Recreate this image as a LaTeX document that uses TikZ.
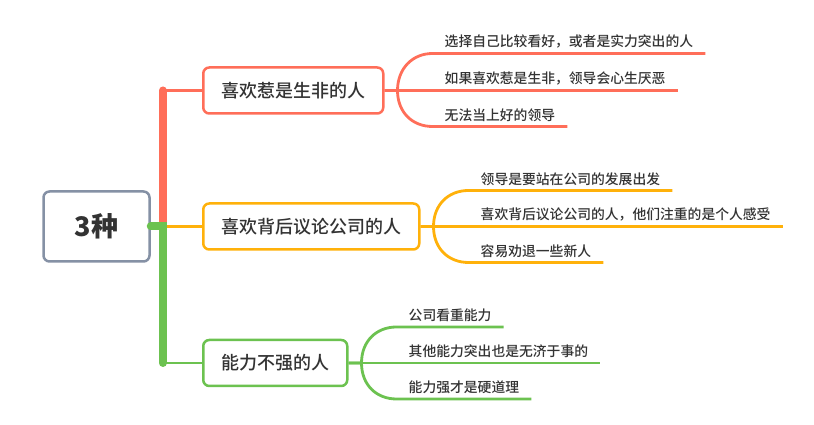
\documentclass[tikz,border=0pt]{standalone}
\usepackage{fontspec}
\setmainfont{Noto Sans CJK SC}
\newfontfamily\mediumfont{Noto Sans CJK SC Medium}
\usepackage{tikz}
\usetikzlibrary{calc}
\usetikzlibrary{positioning}
\definecolor{rootGray}{HTML}{8591A5}
\definecolor{topicRed}{HTML}{FF6E59}
\definecolor{topicOrange}{HTML}{FFB10A}
\definecolor{topicGreen}{HTML}{6CC250}
\definecolor{textGray}{HTML}{333333}
\tikzstyle{rootnode} = [draw=rootGray,line width=2.5pt,rounded corners=6pt,fill=white,minimum width=106pt,minimum height=70pt,text=textGray,font=\fontsize{27}{27}\selectfont\bfseries]
\tikzstyle{topicnode} = [line width=2.5pt,rounded corners=6pt,fill=white,minimum height=46pt,inner xsep=18pt,anchor=west,text=textGray,font=\mediumfont\fontsize{18}{18}\selectfont]
\tikzstyle{leafnode} = [anchor=south west,inner xsep=12pt,inner ysep=5pt,text=textGray,font=\mediumfont\fontsize{13.8}{13.8}\selectfont]
\tikzstyle{trunkline} = [line width=8pt]
\tikzstyle{branchline} = [line width=2.8pt]

\begin{document}
\begin{tikzpicture}[x=1pt,y=1pt]
%
\useasboundingbox (0,0) rectangle (814,425);

\node (root) [rootnode] at (96.5,198.5) {3种};
\node (t1) [topicnode,draw=topicRed] at (202,334.5) {喜欢惹是生非的人};
\node (t2) [topicnode,draw=topicOrange] at (202,198.5) {喜欢背后议论公司的人};
\node (t3) [topicnode,draw=topicGreen] at (202,62) {能力不强的人};
\coordinate (fork) at ($ (root.east)+(12,0) $);

% leaves
\node (t1a) [leafnode] at ($ (t1.east)+(48,37) $) {选择自己比较看好，或者是实力突出的人};
\node (t1b) [leafnode] at ($ (t1.east)+(48,0) $) {如果喜欢惹是生非，领导会心生厌恶};
\node (t1c) [leafnode] at ($ (t1.east)+(48,-36) $) {无法当上好的领导};
\node (t2a) [leafnode] at ($ (t2.east)+(48,36) $) {领导是要站在公司的发展出发};
\node (t2b) [leafnode] at ($ (t2.east)+(48,0) $) {喜欢背后议论公司的人，他们注重的是个人感受};
\node (t2c) [leafnode] at ($ (t2.east)+(48,-36) $) {容易劝退一些新人};
\node (t3a) [leafnode] at ($ (t3.east)+(48,36) $) {公司看重能力};
\node (t3b) [leafnode] at ($ (t3.east)+(48,0) $) {其他能力突出也是无济于事的};
\node (t3c) [leafnode] at ($ (t3.east)+(48,-36) $) {能力强才是硬道理};

% trunk
\draw [trunkline,topicRed,line cap=round] (fork) -- (fork |- t1.west);
\draw [branchline,topicRed] (fork |- t1.west) -- (t1.west);
\draw [branchline,topicOrange] (fork) -- (t2.west);
\draw [trunkline,topicGreen,line cap=round] (root.east) -| (fork |- t3.west);
\draw [branchline,topicGreen] (fork |- t3.west) -- (t3.west);

% branches
\foreach \t/\c in {t1/topicRed,t2/topicOrange,t3/topicGreen} {
  \draw [branchline,\c] (\t.east) -- ++(13,0) .. controls +(0,22) and +(-20,0) .. (\t a.south west) -- (\t a.south east);
  \draw [branchline,\c] (\t.east) -- (\t b.south west) -- (\t b.south east);
  \draw [branchline,\c] (\t.east) -- ++(13,0) .. controls +(0,-22) and +(-20,0) .. (\t c.south west) -- (\t c.south east);
}
\end{tikzpicture}
\end{document}
